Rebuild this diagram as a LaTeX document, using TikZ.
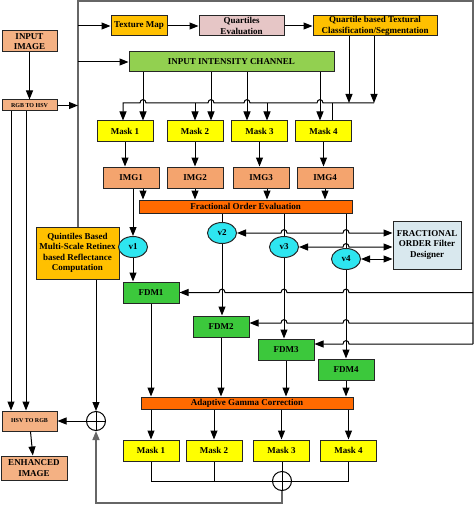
\documentclass[tikz,border=0pt]{standalone}
\usepackage{fontspec}
\setmainfont{Liberation Serif}
\usetikzlibrary{arrows.meta,shapes.geometric}

\definecolor{peach}{HTML}{F4B183}
\definecolor{imgorange}{HTML}{F4A46E}
\definecolor{gold}{HTML}{FFC000}
\definecolor{rose}{HTML}{E6C6C6}
\definecolor{lgreen}{HTML}{92D050}
\definecolor{myellow}{HTML}{FFFF00}
\definecolor{redorange}{HTML}{FF6A00}
\definecolor{vcyan}{HTML}{2EE6F0}
\definecolor{lblue}{HTML}{D9E8EE}
\definecolor{fdmgreen}{HTML}{3CC83C}

\begin{document}
\begin{tikzpicture}[
  x = 1pt, y = -1pt,
  line width = 1pt,
  >={Triangle[length=9pt,width=7pt]},
  every node/.style = {font=\bfseries\fontsize{9}{10.5}\selectfont, align=center, inner sep=0.5pt},
  box/.style = {draw=black!85, rectangle, minimum height=21pt},
  maskbox/.style = {box, fill=myellow, minimum width=56pt},
  imgbox/.style = {box, fill=imgorange, minimum width=56pt},
  fdmbox/.style = {box, fill=fdmgreen, minimum width=56pt},
  vnode/.style = {ellipse, draw=black!85, fill=vcyan, minimum width=29pt, minimum height=21pt, inner sep=0pt},
  sumnode/.style = {circle, draw, minimum size=19pt, inner sep=0pt,
    path picture={\draw (path picture bounding box.north) -- (path picture bounding box.south)
      (path picture bounding box.west) -- (path picture bounding box.east);}},
  frameline/.style = {draw=black!60, line width=1.5pt},
  tiny/.style = {font=\bfseries\fontsize{6}{7}\selectfont}
]
\def\hop#1#2{-- ({#1-3},#2) .. controls ({#1-3},{#2-4.5}) and ({#1+3},{#2-4.5}) .. ({#1+3},#2)}
\useasboundingbox (0,0) rectangle (474,505);

% colonna sinistra
\node[box, fill=peach, minimum width=55pt] (inimg) at (29.5,41.5) {INPUT\\IMAGE};
\node[box, fill=peach, minimum width=55pt, minimum height=11pt, tiny] (rgbhsv) at (29.5,105.5) {RGB TO HSV};
\node[box, fill=peach, minimum width=55pt, minimum height=20pt, tiny] (hsvrgb) at (29.5,421) {HSV TO RGB};
\node[box, fill=peach, minimum width=66pt, minimum height=24pt] (enh) at (34,468) {ENHANCED\\IMAGE};
\node[box, fill=gold, minimum width=83pt, minimum height=52pt] (quint) at (77.5,253)
  {Quintiles Based\\Multi-Scale Retinex\\based Reflectance\\Computation};
\node[sumnode] (sum1) at (96,421) {};

% riga superiore
\node[box, fill=gold, minimum width=56pt, minimum height=20pt] (texmap) at (139,26) {Texture Map};
\node[box, fill=rose, minimum width=85pt, minimum height=20pt] (qeval) at (241.5,26) {Quartiles\\Evaluation};
\node[box, fill=gold, minimum width=124pt, minimum height=20pt] (qclass) at (375,26)
  {Quartile based Textural\\Classification/Segmentation};
\node[box, fill=lgreen, minimum width=205pt, minimum height=20pt] (intens) at (231.5,62) {INPUT INTENSITY CHANNEL};

% maschere e immagini
\foreach \i/\x in {1/125,2/195,3/259.5,4/323.5}
  \node[maskbox] (m\i) at (\x,131.5) {Mask \i};
\foreach \i/\x in {1/131,2/195,3/261,4/325}
  \node[imgbox] (img\i) at (\x,177.5) {IMG\i};
\node[box, fill=redorange, minimum width=213pt, minimum height=13pt] (foe) at (245.5,206.5) {Fractional Order Evaluation};
\foreach \i/\x/\y in {1/133/247,2/222/233,3/284/247,4/346/259}
  \node[vnode] (v\i) at (\x,\y) {v\i};
\node[box, fill=lblue, minimum width=68pt, minimum height=48pt] (fofd) at (427,245)
  {FRACTIONAL\\ORDER Filter\\Designer};
\foreach \i/\x/\y in {1/151/292.5,2/221/326.5,3/286/349.5,4/346/369.5}
  \node[fdmbox] (fdm\i) at (\x,\y) {FDM\i};
\node[box, fill=redorange, minimum width=212pt, minimum height=12pt] (agc) at (247,403) {Adaptive Gamma Correction};
\foreach \i/\x in {1/151,2/214,3/281.5,4/348.5}
  \node[maskbox] (bm\i) at (\x,450.5) {Mask \i};
\node[sumnode] (sum2) at (282,481) {};

% cornice
\coordinate (ftl) at (78,1);
\coordinate (fbr) at (473,344);
\coordinate (bus) at (0,103);
\coordinate (fb) at (0,503);
\draw[frameline] (quint.north -| ftl) -- (ftl) -| (fbr);
\draw[->] (inimg) -- (rgbhsv);
\draw[->] (rgbhsv) -- (ftl |- rgbhsv);
\draw[->] (rgbhsv.south -| 11,0) -- (hsvrgb.north -| 11,0);
\draw[->] (rgbhsv.south -| 26,0) -- (hsvrgb.north -| 26,0);
\draw[->] (hsvrgb) -- (enh);
\draw[->] (sum1) -- (hsvrgb);
\draw[->] (quint.south -| sum1) -- (sum1);
\draw[->] (ftl |- texmap) -- (texmap);
\draw[->] (ftl |- intens) -- (intens);
\draw[->] (texmap) -- (qeval);
\draw[->] (qeval) -- (qclass);

% bus sotto il canale di intensita
\draw[->] (qclass.south -| 349,0) -- (349,103);
\draw[->] (qclass.south -| 374,0) -- (374,103);
\draw[<-] (m1.north -| 123,0) -- (123,103) \hop{143}{103} \hop{211}{103} \hop{247}{103} \hop{320}{103} -- (374,103);
\draw[->] (m2.north |- bus) -- (m2.north);
\draw[->] (267,103) -- (m3.north -| 267,0);
\draw (332,103) -- (m4.north -| 332,0);
\foreach \x/\m in {143/m1,211/m2,247/m3,320/m4}
  \draw[->] (intens.south -| \x,0) -- (\m.north -| \x,0);
\foreach \i in {1,...,4}
  \draw[->] (m\i) -- (m\i |- img\i.north);

% valutazione frazionaria
\draw[->] (img1.south -| 143,0) -- (foe.north -| 143,0);
\draw[->] (img2) -- (img2 |- foe.north);
\draw[->] (img3.south -| 267,0) -- (foe.north -| 267,0);
\draw[->] (img4) -- (img4 |- foe.north);
\draw[->] (img1.south -| v1) -- (v1);
\foreach \i in {2,3,4}
  \draw (foe.south -| v\i) -- (v\i);
\draw[<->] (v2) \hop{284}{233} \hop{346}{233} -- (fofd.west |- v2);
\draw[<->] (v3) \hop{346}{247} -- (fofd.west |- v3);
\draw[<->] (v4) -- (fofd.west |- v4);
\foreach \i in {1,...,4}
  \draw[->] (v\i) -- (fdm\i.north -| v\i);

% ritorno dalla cornice
\draw[<-] (fdm1.east) \hop{222}{292.5} \hop{284}{292.5} \hop{346}{292.5} -- (fbr |- fdm1.east);
\draw[<-] (fdm2.east |- 0,323) \hop{284}{323} \hop{346}{323} -- (fbr |- 0,323);
\draw[<-] (fdm3.east |- fbr) \hop{346}{344} -- (fbr);

% correzione gamma
\foreach \i in {1,...,4}
  \draw[->] (fdm\i) -- (fdm\i |- agc.north);
\foreach \i in {1,...,4}
  \draw[->] (agc.south -| bm\i) -- (bm\i);
\draw (bm1) |- (sum2);
\draw (bm2) -- (bm2 |- sum2);
\draw (bm3.south -| sum2) -- (sum2);
\draw (bm4) |- (sum2);
\draw[frameline, ->] (sum2) -- (sum2 |- fb) -| (sum1);
\end{tikzpicture}
\end{document}
